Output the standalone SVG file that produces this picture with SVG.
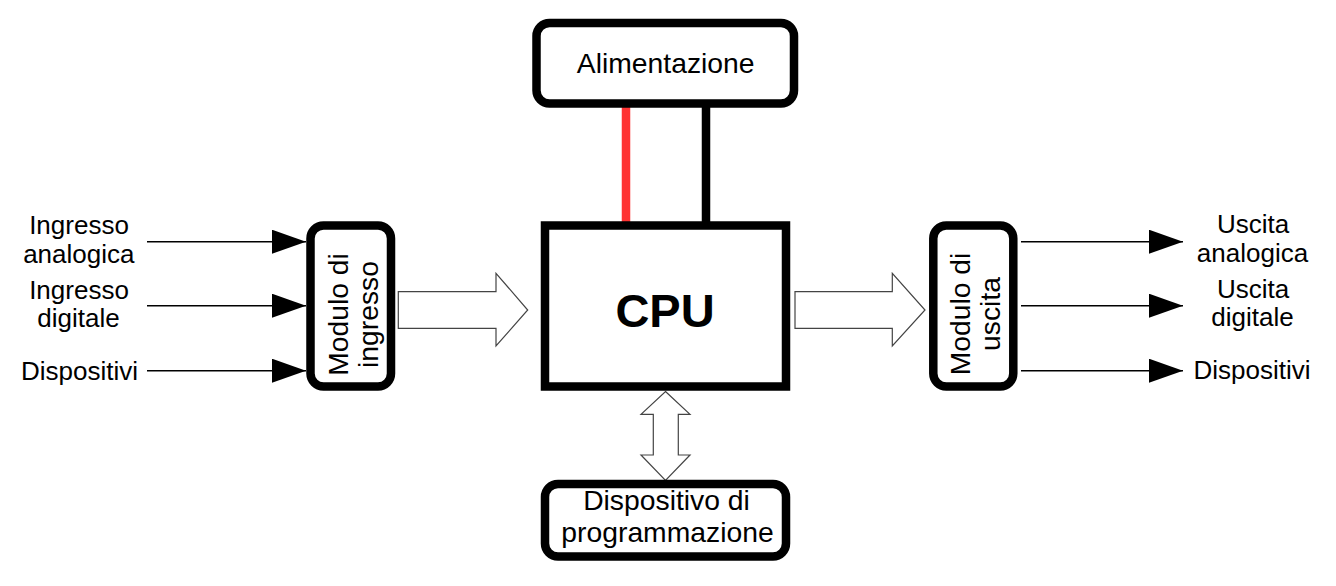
<svg xmlns="http://www.w3.org/2000/svg" width="1336" height="586" viewBox="0 0 1336 586">
  <defs>
    <style>
      .box { fill: #fff; stroke: #000; stroke-width: 8.5; }
      .lbl { font-family: "Liberation Sans", Arial, sans-serif; font-size: 26px; fill: #000; text-anchor: middle; }
      .blbl { font-family: "Liberation Sans", Arial, sans-serif; font-size: 28.3px; fill: #000; text-anchor: middle; }
      .sig { stroke: #000; stroke-width: 1.5; fill: none; }
      .block { fill: #fff; stroke: #444; stroke-width: 1.2; stroke-linejoin: miter; }
    </style>
    <marker id="head" markerUnits="userSpaceOnUse" markerWidth="34" markerHeight="24" refX="34" refY="12" orient="auto" viewBox="0 0 34 24">
      <path d="M0,0 L34,12 L0,24 Z" fill="#000"/>
    </marker>
  </defs>
  <rect width="1336" height="586" fill="#fff"/>

  <g id="connectors">
    <line x1="626" y1="106" x2="626" y2="222" stroke="#ff3333" stroke-width="8.5"/>
    <line x1="706" y1="106" x2="706" y2="222" stroke="#000" stroke-width="8.5"/>
    <line class="sig" x1="147" y1="241.7" x2="306" y2="241.7" marker-end="url(#head)"/>
    <line class="sig" x1="147" y1="305.7" x2="306" y2="305.7" marker-end="url(#head)"/>
    <line class="sig" x1="147" y1="370.7" x2="306" y2="370.7" marker-end="url(#head)"/>
    <line class="sig" x1="1021" y1="241.7" x2="1183" y2="241.7" marker-end="url(#head)"/>
    <line class="sig" x1="1021" y1="305.7" x2="1183" y2="305.7" marker-end="url(#head)"/>
    <line class="sig" x1="1021" y1="370.7" x2="1183" y2="370.7" marker-end="url(#head)"/>
    <polygon class="block" points="398.3,291.7 496,291.7 496,273.3 527.7,310 496,346 496,328.3 398.3,328.3"/>
    <polygon class="block" points="795,291.7 892.3,291.7 892.3,273.3 925,310 892.3,346 892.3,328.3 795,328.3"/>
    <polygon class="block" points="665.5,391.5 690,414.3 678.3,414.3 678.3,455 690,455 665.5,480.5 641,455 653.3,455 653.3,414.3 641,414.3"/>
  </g>

  <g id="labels-in">
    <text class="lbl" x="79" y="234.3">Ingresso</text>
    <text class="lbl" x="78.8" y="262.7">analogica</text>
    <text class="lbl" x="79" y="299.3">Ingresso</text>
    <text class="lbl" x="78.5" y="326.7">digitale</text>
    <text class="lbl" x="79.5" y="380">Dispositivi</text>
  </g>
  <g id="labels-out">
    <text class="lbl" x="1253" y="233.3">Uscita</text>
    <text class="lbl" x="1252.5" y="261.7">analogica</text>
    <text class="lbl" x="1253" y="298.3">Uscita</text>
    <text class="lbl" x="1252.5" y="326">digitale</text>
    <text class="lbl" x="1252" y="379.3">Dispositivi</text>
  </g>

  <g id="alimentazione">
    <rect class="box" x="536.5" y="23" width="257.5" height="80.5" rx="13"/>
    <text class="blbl" x="665.7" y="73.3">Alimentazione</text>
  </g>

  <g id="cpu">
    <rect class="box" x="545" y="225.5" width="241" height="161" stroke-width="9"/>
    <text x="665" y="326.5" font-family="Liberation Sans, Arial, sans-serif" font-size="47" font-weight="bold" text-anchor="middle" fill="#000">CPU</text>
  </g>

  <g id="modulo-ingresso">
    <rect class="box" x="310.5" y="225.5" width="80.5" height="161" rx="13"/>
    <text class="blbl" transform="translate(347.5,314.5) rotate(-90)">Modulo di</text>
    <text class="blbl" transform="translate(378,314.5) rotate(-90)">ingresso</text>
  </g>

  <g id="modulo-uscita">
    <rect class="box" x="933.3" y="225.5" width="80" height="161" rx="13"/>
    <text class="blbl" transform="translate(970,314) rotate(-90)">Modulo di</text>
    <text class="blbl" transform="translate(1000.3,314) rotate(-90)">uscita</text>
  </g>

  <g id="dispositivo-programmazione">
    <rect class="box" x="545" y="484" width="241" height="72.5" rx="13"/>
    <text class="blbl" x="666.5" y="510">Dispositivo di</text>
    <text class="blbl" x="667.5" y="541.7">programmazione</text>
  </g>
</svg>
